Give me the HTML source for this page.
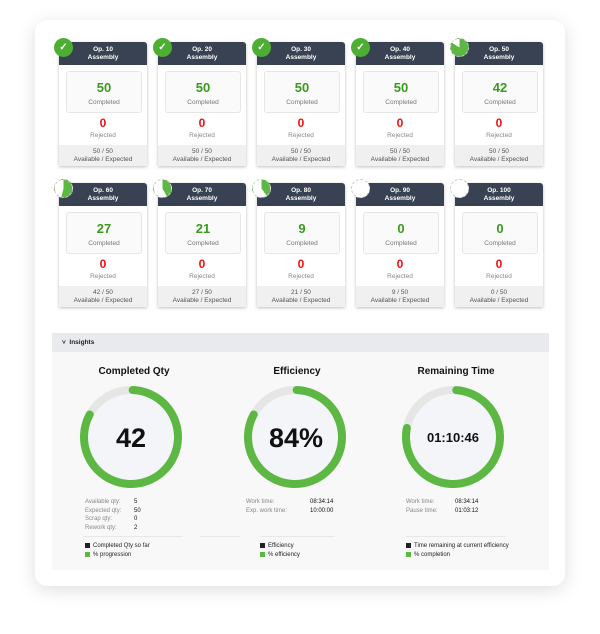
<!DOCTYPE html>
<html><head><style>
body{margin:0;width:600px;height:634px;background:#fff;font-family:"Liberation Sans",Arial,sans-serif;position:relative;overflow:hidden}
.wrap{position:absolute;left:35px;top:20px;width:530px;height:566px;background:#fff;border-radius:12px;box-shadow:0 4px 18px rgba(0,0,0,0.13)}
.card{position:absolute;width:88px;height:124px;background:#fff;box-shadow:0 1px 3px rgba(0,0,0,0.25);border-radius:3px 3px 0 0}
.hd{height:23px;background:#384252;color:#fff;font-size:6.5px;font-weight:bold;text-align:center;line-height:8px;padding-top:4px;box-sizing:border-box;border-radius:3px 3px 0 0}
.box{position:absolute;left:7px;top:29px;width:74px;height:40px;border:1px solid #e6e6e6;border-radius:3px;background:#fafafa;text-align:center}
.num{color:#3a9a1f;font-size:13px;font-weight:bold;margin-top:8px}
.lab{color:#777;font-size:6.5px;margin-top:4px}
.rej{position:absolute;left:0;width:88px;top:74px;text-align:center;color:#f01010;font-size:12px;font-weight:bold}
.rl{position:absolute;left:0;width:88px;top:90px;text-align:center;color:#888;font-size:6.5px}
.ft{position:absolute;left:0;bottom:0;width:88px;height:21px;background:#f0f0f0;text-align:center;font-size:6.5px;color:#555;line-height:8px;padding-top:3px;box-sizing:border-box}
.ic{position:absolute;left:-5px;top:-4px;width:19px;height:19px;border-radius:50%}
.ins{position:absolute;left:52px;top:333px;width:497px;height:237px;background:#f8f8f9}
.ih{height:19px;background:#e8eaed;font-size:6.5px;font-weight:bold;line-height:19px;padding-left:10px;color:#222}
.col{position:absolute;top:0;width:160px;text-align:center}
.t{font-size:10px;font-weight:bold;color:#111}
.st{position:absolute;font-size:6px;color:#888;line-height:8.5px}
.st b{color:#111;font-weight:normal}
.lg{position:absolute;font-size:6px;color:#222;line-height:9px}
.sq{display:inline-block;width:5px;height:5px;margin-right:3px;vertical-align:-0.5px}
.sep{position:absolute;height:1px;background:#e8e8e8}
</style></head><body>
<div class="wrap"></div>
<div id="cards"></div>
<div class="ins">
<div class="ih">&#709;&nbsp; Insights</div>
</div>
<svg width="600" height="634" style="position:absolute;left:0;top:0">
<g font-family="Liberation Sans, Arial, sans-serif" text-anchor="middle">
<text x="134" y="374" font-size="10" font-weight="bold" fill="#111">Completed Qty</text>
<text x="297" y="374" font-size="10" font-weight="bold" fill="#111">Efficiency</text>
<text x="456" y="374" font-size="10" font-weight="bold" fill="#111">Remaining Time</text>
<circle cx="131" cy="437" r="47" fill="#f4f5f9" stroke="#e6e6e6" stroke-width="8"/>
<circle cx="131" cy="437" r="47" fill="none" stroke="#5cb843" stroke-width="8" stroke-linecap="round" stroke-dasharray="243 400" transform="rotate(-88 131 437)"/>
<circle cx="295" cy="437" r="47" fill="#f4f5f9" stroke="#e6e6e6" stroke-width="8"/>
<circle cx="295" cy="437" r="47" fill="none" stroke="#5cb843" stroke-width="8" stroke-linecap="round" stroke-dasharray="243 400" transform="rotate(-88 295 437)"/>
<circle cx="453" cy="437" r="47" fill="#f4f5f9" stroke="#e6e6e6" stroke-width="8"/>
<circle cx="453" cy="437" r="47" fill="none" stroke="#5cb843" stroke-width="8" stroke-linecap="round" stroke-dasharray="227 400" transform="rotate(-86 453 437)"/>
<text x="131" y="447" font-size="27" font-weight="bold" fill="#111">42</text>
<text x="296" y="447" font-size="27" font-weight="bold" fill="#111">84%</text>
<text x="453" y="442" font-size="13" font-weight="bold" fill="#111">01:10:46</text>
</g>
</svg>
<div class="st" style="left:85px;top:498px">Available qty:<br>Expected qty:<br>Scrap qty:<br>Rework qty:</div>
<div class="st" style="left:134px;top:498px"><b>5<br>50<br>0<br>2</b></div>
<div class="st" style="left:246px;top:498px">Work time:<br>Exp. work time:</div>
<div class="st" style="left:310px;top:498px"><b>08:34:14<br>10:00:00</b></div>
<div class="st" style="left:406px;top:498px">Work time:<br>Pause time:</div>
<div class="st" style="left:455px;top:498px"><b>08:34:14<br>01:03:12</b></div>
<div class="sep" style="left:83px;top:536px;width:100px"></div>
<div class="sep" style="left:200px;top:536px;width:40px"></div>
<div class="sep" style="left:260px;top:536px;width:75px"></div>
<div class="sep" style="left:406px;top:536px;width:100px"></div>
<div class="lg" style="left:85px;top:542px"><span class="sq" style="background:#222"></span>Completed Qty so far<br><span class="sq" style="background:#5cb843"></span>% progression</div>
<div class="lg" style="left:260px;top:542px"><span class="sq" style="background:#222"></span>Efficiency<br><span class="sq" style="background:#5cb843"></span>% efficiency</div>
<div class="lg" style="left:406px;top:542px"><span class="sq" style="background:#222"></span>Time remaining at current efficiency<br><span class="sq" style="background:#5cb843"></span>% completion</div>
<script>
var d=[[10,50,"50 / 50",1],[20,50,"50 / 50",1],[30,50,"50 / 50",1],[40,50,"50 / 50",1],[50,42,"50 / 50",.84],[60,27,"42 / 50",.54],[70,21,"27 / 50",.42],[80,9,"21 / 50",.4],[90,0,"9 / 50",0],[100,0,"0 / 50",0]];
var h="";
d.forEach(function(c,i){
var x=59+(i%5)*99,y=i<5?42:183;
var p=c[3],ic;
if(p>=1) ic='<div class="ic" style="background:#4caf32;color:#fff;font-size:10px;font-weight:bold;text-align:center;line-height:19px">&#10003;</div>';
else {var a=p*360;ic='<div class="ic" style="background:conic-gradient(#5cb843 0deg '+a+'deg,#fff '+a+'deg 360deg);border:1px dashed #ccc;box-sizing:border-box"></div>';}
h+='<div class="card" style="left:'+x+'px;top:'+y+'px"><div class="hd">Op. '+c[0]+'<br>Assembly</div><div class="box"><div class="num">'+c[1]+'</div><div class="lab">Completed</div></div><div class="rej">0</div><div class="rl">Rejected</div><div class="ft">'+c[2]+'<br>Available / Expected</div>'+ic+'</div>';
});
document.getElementById("cards").innerHTML=h;
</script>
</body></html>
